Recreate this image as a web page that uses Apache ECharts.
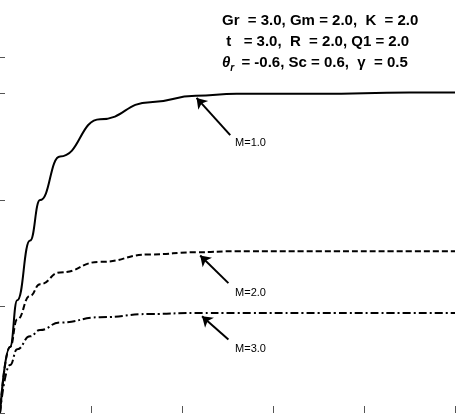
<!DOCTYPE html><html><head><meta charset="utf-8">
<script src="https://cdn.jsdelivr.net/npm/echarts@6/dist/echarts.min.js"></script>
<style>html,body{margin:0;background:#fff}#c{width:474px;height:415px}</style></head><body><div id="c"></div>
<script>
const xs = [0, 0.11, 0.19, 0.33, 0.44, 0.66, 1.1, 1.65, 2.15, 2.6, 3.5, 4.5, 5.0];
const m1 = [0, 0.62, 1.06, 1.62, 2.0, 2.41, 2.76, 2.92, 2.98, 3.0, 3.0, 3.01, 3.01];
const m2 = [0, 0.62, 0.88, 1.10, 1.21, 1.32, 1.42, 1.49, 1.51, 1.52, 1.52, 1.52, 1.52];
const m3 = [0, 0.45, 0.60, 0.72, 0.78, 0.85, 0.90, 0.93, 0.94, 0.94, 0.94, 0.94, 0.94];
const yTicks = [0, 1, 2, 3, 3.34];
const xTicks = [1, 2, 3, 4, 5];
const zip = a => xs.map((x, i) => [x, a[i]]);
const arrows = [
  {name: 'M=1.0', from: [2.53, 2.61], to: [2.16, 2.96], label: [2.55, 2.54]},
  {name: 'M=2.0', from: [2.51, 1.22], to: [2.20, 1.48], label: [2.55, 1.13]},
  {name: 'M=3.0', from: [2.51, 0.69], to: [2.22, 0.91], label: [2.55, 0.60]}
];
const styles = ['solid', [6, 3], [8, 3, 2, 3]];
const chart = echarts.init(document.getElementById('c'));
chart.setOption({
  animation: false,
  grid: {left: 0, right: 19, top: 0, bottom: 2},
  xAxis: {type: 'value', min: 0, max: 5, axisLine: {show: false}, splitLine: {show: false},
    axisLabel: {show: false}, axisTick: {inside: true, length: 7, customValues: xTicks, lineStyle: {color: '#555'}}},
  yAxis: {type: 'value', min: 0, max: 3.88, axisLine: {show: false}, splitLine: {show: false},
    axisLabel: {show: false}, axisTick: {inside: true, length: 5, customValues: yTicks, lineStyle: {color: '#555'}}},
  series: [m1, m2, m3].map((d, i) => ({
    type: 'line', data: zip(d), smooth: true, smoothMonotone: 'x', symbol: 'none',
    lineStyle: {color: '#000', width: 2, type: styles[i]},
    markLine: {silent: true, symbol: ['none', 'arrow'], symbolSize: 10, label: {show: false},
      lineStyle: {color: '#000', width: 2, type: 'solid'},
      data: [[{coord: arrows[i].from}, {coord: arrows[i].to}]]},
    markPoint: {symbol: 'circle', symbolSize: 0,
      data: [{coord: arrows[i].label, label: {show: true, formatter: arrows[i].name, color: '#000',
        fontSize: 11, fontFamily: 'Liberation Sans', position: 'right', offset: [-2, 0]}}]}
  })),
  graphic: [{type: 'text', left: 222, top: 10, style: {
    text: 'Gr  = 3.0, Gm = 2.0,  K  = 2.0\n t   = 3.0,  R  = 2.0, Q1 = 2.0\n{i|θ}{s|r} = -0.6, Sc = 0.6,  γ  = 0.5',
    font: 'bold 15px Liberation Sans', fill: '#000', lineHeight: 21, align: 'center',
    rich: {i: {fontStyle: 'italic', fontWeight: 'bold', fontSize: 15, fontFamily: 'Liberation Sans'},
      s: {fontStyle: 'italic', fontWeight: 'bold', fontSize: 10, fontFamily: 'Liberation Sans', verticalAlign: 'bottom', padding: [6, 3, 0, 0]}}}}]
});
</script></body></html>
